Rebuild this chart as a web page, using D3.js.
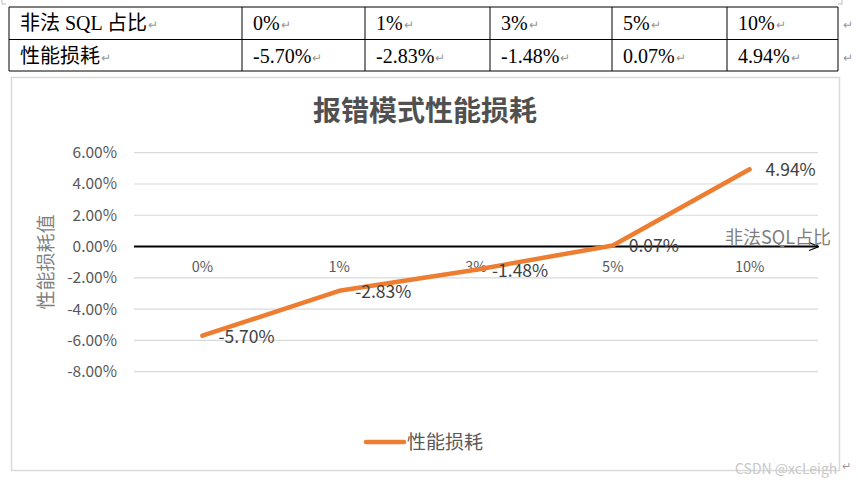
<!DOCTYPE html>
<html><head><meta charset="utf-8">
<script src="https://cdn.jsdelivr.net/npm/d3@7"></script>
<style>body{margin:0;background:#fff}svg{display:block}</style>
</head><body>
<svg id="c" width="858" height="483"></svg>
<script>
const categories = ["0%", "1%", "3%", "5%", "10%"];
const values = [-5.70, -2.83, -1.48, 0.07, 4.94];
const valueLabels = ["-5.70%", "-2.83%", "-1.48%", "0.07%", "4.94%"];
const yTicks = [-8, -6, -4, -2, 0, 2, 4, 6];
const tableRow1 = ["非法 SQL 占比", "0%", "1%", "3%", "5%", "10%"];
const tableRow2 = ["性能损耗", "-5.70%", "-2.83%", "-1.48%", "0.07%", "4.94%"];

const svg = d3.select("#c");
const sans = "'Noto Sans CJK SC','Open Sans',sans-serif";
const serif = "'Liberation Serif','Noto Sans CJK SC',serif";

// ---- table ----
const colX = [9, 242, 365, 490, 612, 727, 838];
const rowY = [7, 39.5, 71];
const tg = svg.append("g");
[tableRow1, tableRow2].forEach((row, r) => {
  row.forEach((t, i) => {
    const tx = tg.append("text").attr("x", colX[i] + 11).attr("y", rowY[r] + 23)
      .attr("font-family", serif).attr("font-size", 20).attr("fill", "#000").text(t);
    const w = tx.node().getComputedTextLength();
    tg.append("text").attr("x", colX[i] + 11 + w + 1).attr("y", rowY[r] + 22)
      .attr("font-family", sans).attr("font-size", 12).attr("fill", "#999").text("↵");
  });
  tg.append("text").attr("x", 843).attr("y", rowY[r] + 22)
    .attr("font-family", sans).attr("font-size", 12).attr("fill", "#999").text("↵");
});
rowY.forEach(y => tg.append("line").attr("x1", colX[0]).attr("x2", colX[6]).attr("y1", y).attr("y2", y)
  .attr("stroke", "#000").attr("stroke-width", 1));
colX.forEach(x => tg.append("line").attr("x1", x).attr("x2", x).attr("y1", rowY[0]).attr("y2", rowY[2])
  .attr("stroke", "#000").attr("stroke-width", 1));
tg.append("path").attr("d", "M2,0V4H6").attr("fill", "none").attr("stroke", "#bbb");
tg.append("path").attr("d", "M842,0V4H838").attr("fill", "none").attr("stroke", "#bbb");

// ---- chart box ----
svg.append("rect").attr("x", 11.5).attr("y", 77.5).attr("width", 828).attr("height", 393)
  .attr("fill", "#fff").attr("stroke", "#d9d9d9").attr("stroke-width", 1.5);

const x = d3.scaleBand().domain(categories).range([134, 818]);
const y = d3.scaleLinear().domain([-8, 6]).range([371.7, 152.7]);

// title
svg.append("text").attr("x", 425).attr("y", 121).attr("text-anchor", "middle")
  .attr("font-family", sans).attr("font-size", 28).attr("font-weight", 600).attr("fill", "#505050")
  .text("报错模式性能损耗");

// gridlines
svg.append("g").selectAll("line").data(yTicks.filter(d => d !== 0)).join("line")
  .attr("x1", 134).attr("x2", 818).attr("y1", d => y(d)).attr("y2", d => y(d))
  .attr("stroke", "#d9d9d9").attr("stroke-width", 1.2);

// y axis labels
const yAxis = d3.axisLeft(y).tickValues(yTicks).tickSize(0).tickPadding(0)
  .tickFormat(d => d.toFixed(2) + "%");
const ya = svg.append("g").attr("transform", "translate(117,0)").call(yAxis);
ya.select(".domain").remove();
ya.selectAll("text").attr("font-family", sans).attr("font-size", 15.5).attr("fill", "#595959");

// y axis title
svg.append("text").attr("transform", "translate(53,262) rotate(-90)").attr("text-anchor", "middle")
  .attr("font-family", sans).attr("font-size", 19).attr("fill", "#7f7f7f").text("性能损耗值");

// x axis (zero line with arrow)
svg.append("defs").append("marker").attr("id", "arr").attr("viewBox", "0 0 10 10")
  .attr("refX", 9).attr("refY", 5).attr("markerWidth", 5).attr("markerHeight", 5)
  .attr("orient", "auto").attr("markerUnits", "strokeWidth")
  .append("path").attr("d", "M0,1L10,5L0,9").attr("fill", "none").attr("stroke", "#000").attr("stroke-width", 1.2);
svg.append("line").attr("x1", 134).attr("x2", 818).attr("y1", y(0)).attr("y2", y(0))
  .attr("stroke", "#000").attr("stroke-width", 2).attr("marker-end", "url(#arr)");

// x category labels
const xAxis = d3.axisBottom(x).tickSize(0).tickPadding(0);
const xa = svg.append("g").attr("transform", `translate(0,${y(0) + 15})`).call(xAxis);
xa.select(".domain").remove();
xa.selectAll("text").attr("font-family", sans).attr("font-size", 14.5).attr("fill", "#595959");

// x axis title
svg.append("text").attr("x", 778).attr("y", 244).attr("text-anchor", "middle")
  .attr("font-family", sans).attr("font-size", 18).attr("fill", "#7f7f7f").text("非法SQL占比");

// line
const line = d3.line().x((d, i) => x(categories[i]) + x.bandwidth() / 2).y(d => y(d));
svg.append("path").datum(values).attr("d", line).attr("fill", "none")
  .attr("stroke", "#ED7D31").attr("stroke-width", 4.5).attr("stroke-linecap", "round").attr("stroke-linejoin", "round");

// data labels
svg.append("g").selectAll("text").data(values).join("text")
  .attr("x", (d, i) => x(categories[i]) + x.bandwidth() / 2 + 16)
  .attr("y", d => y(d) + 7)
  .attr("font-family", sans).attr("font-size", 17.5).attr("fill", "#404040")
  .text((d, i) => valueLabels[i]);

// legend
svg.append("line").attr("x1", 366).attr("x2", 404).attr("y1", 442).attr("y2", 442)
  .attr("stroke", "#ED7D31").attr("stroke-width", 4.5).attr("stroke-linecap", "round");
svg.append("text").attr("x", 407).attr("y", 449).attr("font-family", sans).attr("font-size", 19)
  .attr("fill", "#595959").text("性能损耗");

// watermark
svg.append("text").attr("x", 735).attr("y", 474).attr("font-family", sans).attr("font-size", 14)
  .attr("fill", "#c8c8c8").text("CSDN @xcLeigh");
svg.append("text").attr("x", 842).attr("y", 470).attr("font-family", sans).attr("font-size", 11)
  .attr("fill", "#999").text("↵");
</script>
</body></html>
